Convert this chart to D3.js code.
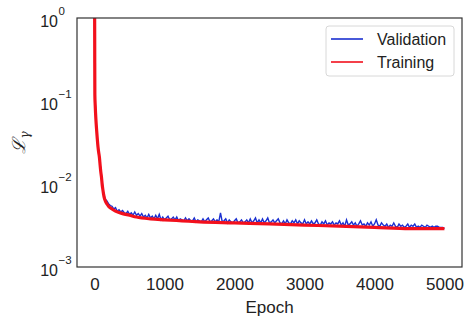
<!DOCTYPE html>
<html><head><meta charset="utf-8">
<script src="https://cdn.jsdelivr.net/npm/d3@7"></script>
<style>body{margin:0;background:#fff}svg{display:block}</style>
</head><body>
<script>
// ---- data ----
const xTicks = [0, 1000, 2000, 3000, 4000, 5000];
const yTickExps = [0, -1, -2, -3];
const trainEpochs = [0,3,5,10,20,30,40,50,60,70,80,90,100,110,120,130,140,160,180,200,250,300,400,500,600,800,1000,1250,1500,2000,2500,3000,3500,4000,4500,4999];
const trainLoss = [5,0.5,0.12,0.09,0.06,0.045,0.035,0.028,0.024,0.021,0.017,0.014,0.012,0.0098,0.0085,0.0075,0.0068,0.0061,0.0057,0.0054,0.0050,0.0047,0.0044,0.0042,0.0040,0.0038,0.0037,0.0036,0.0035,0.0034,0.0033,0.0032,0.0031,0.0030,0.0029,0.0029];
const valEarlyEpochs = [0,5,25,50,75,100,125];
const valEarly = [5,0.12,0.05,0.029,0.019,0.0125,0.0082];
const valStep = 25, valStart = 150;
const valNoisy = [
0.0066,0.0063,0.0058,0.0055,0.0054,0.0050,0.0052,0.0047,0.0049,0.0046,
0.0048,0.0045,0.0044,0.0047,0.0043,0.0045,0.0042,0.0046,0.0042,0.0044,
0.0041,0.0044,0.0040,0.0042,0.0039,0.0043,0.0039,0.0041,0.0038,0.0042,
0.0038,0.0043,0.0037,0.0040,0.0037,0.0039,0.0041,0.0037,0.0038,0.0040,
0.0037,0.0040,0.0036,0.0038,0.0037,0.0036,0.0039,0.0036,0.0038,0.0036,
0.0036,0.0039,0.0035,0.0037,0.0036,0.0035,0.0038,0.0035,0.0037,0.0039,
0.0035,0.0036,0.0038,0.0035,0.0037,0.0035,0.0045,0.0035,0.0036,0.0038,
0.0034,0.0037,0.0035,0.0034,0.0036,0.0038,0.0034,0.0035,0.0037,0.0034,
0.0035,0.0037,0.0034,0.0038,0.0034,0.0036,0.0039,0.0034,0.0037,0.0034,
0.0038,0.0034,0.0036,0.0039,0.0034,0.0035,0.0037,0.0034,0.0036,0.0038,
0.0034,0.0033,0.0036,0.0033,0.0037,0.0034,0.0033,0.0036,0.0034,0.0037,
0.0033,0.0036,0.0034,0.0033,0.0037,0.0033,0.0035,0.0033,0.0036,0.0033,
0.0034,0.0037,0.0033,0.0032,0.0035,0.0033,0.0036,0.0032,0.0034,0.0033,
0.0035,0.0032,0.0034,0.0033,0.0036,0.0032,0.0034,0.0031,0.0037,0.0032,
0.0033,0.0035,0.0032,0.0034,0.0031,0.0033,0.0036,0.0032,0.0033,0.0031,
0.0034,0.0032,0.0035,0.0031,0.0033,0.0037,0.0032,0.0031,0.0034,0.0032,
0.0031,0.0033,0.0030,0.0032,0.0031,0.0034,0.0031,0.0030,0.0033,0.0031,
0.0032,0.0030,0.0031,0.0033,0.0030,0.0032,0.0031,0.0033,0.0030,0.0031,
0.0030,0.0032,0.0031,0.0030,0.0032,0.0031,0.0030,0.0031,0.0030,0.0031,
0.0031,0.0030,0.0030,0.0030,0.0029];
const seriesNames = ["Validation", "Training"];
const seriesColors = ["#1a2fd0", "#f2101c"];

// ---- build ----
const W = 474, H = 325;
const m = {left: 77, right: 12, top: 18, bottom: 58};
const svg = d3.select("body").append("svg").attr("width", W).attr("height", H)
  .style("font-family", "Liberation Sans, Arial, sans-serif");

const x = d3.scaleLinear().domain([-250, 5250]).range([m.left, W - m.right]);
const y = d3.scaleLog().domain([1e-3, 1]).range([H - m.bottom, m.top]);

const valData = valEarlyEpochs.map((e, i) => [e, valEarly[i]])
  .concat(valNoisy.map((v, i) => [Math.min(valStart + i * valStep, 4999), v]));
const trainData = trainEpochs.map((e, i) => [e, trainLoss[i]]);

svg.append("defs").append("clipPath").attr("id", "clip")
  .append("rect").attr("x", m.left).attr("y", m.top)
  .attr("width", W - m.left - m.right).attr("height", H - m.top - m.bottom);

const line = d3.line().x(d => x(d[0])).y(d => y(d[1]));
const g = svg.append("g").attr("clip-path", "url(#clip)");
g.append("path").datum(valData).attr("d", line).attr("fill", "none")
  .attr("stroke", seriesColors[0]).attr("stroke-width", 1.4).attr("stroke-linejoin", "miter");
g.append("path").datum(trainData).attr("d", line.curve(d3.curveMonotoneX)).attr("fill", "none")
  .attr("stroke", seriesColors[1]).attr("stroke-width", 3.2);

// frame
svg.append("rect").attr("x", m.left).attr("y", m.top)
  .attr("width", W - m.left - m.right).attr("height", H - m.top - m.bottom)
  .attr("fill", "none").attr("stroke", "#333").attr("stroke-width", 1.2);

// x axis
const xAxis = d3.axisBottom(x).tickValues(xTicks).tickFormat(d3.format("d")).tickSize(0).tickPadding(11);
const xa = svg.append("g").attr("transform", `translate(0,${H - m.bottom})`).call(xAxis);
xa.select(".domain").remove();
xa.selectAll("text").attr("font-size", 17).attr("fill", "#222")
  .style("font-family", "Liberation Sans, Arial, sans-serif");

// y axis with superscript labels
const ya = svg.append("g");
yTickExps.forEach(e => {
  ya.append("text").attr("x", 58).attr("y", y(Math.pow(10, e)) + 9)
    .attr("text-anchor", "end").attr("fill", "#222").attr("font-size", 16).text("10");
  ya.append("text").attr("x", 58.5).attr("y", y(Math.pow(10, e)) - 3)
    .attr("font-size", 11.5).attr("fill", "#222")
    .text(e === 0 ? "0" : "\u2212" + Math.abs(e));
});

// labels
svg.append("text").attr("x", x(2500)).attr("y", 313).attr("text-anchor", "middle")
  .attr("font-size", 17).attr("fill", "#222").text("Epoch");
const yl = svg.append("text").attr("transform", `translate(25,${(m.top + H - m.bottom) / 2}) rotate(-90)`)
  .attr("text-anchor", "middle").attr("fill", "#222")
  .style("font-family", "DejaVu Serif, serif");
yl.append("tspan").attr("font-size", 18).attr("font-style", "italic").text("\u2112");
yl.append("tspan").attr("font-size", 12).attr("font-style", "italic").attr("dy", 4).text("\u03B3");

// legend
const lg = svg.append("g");
lg.append("rect").attr("x", 326).attr("y", 26).attr("width", 128).attr("height", 50)
  .attr("rx", 3).attr("fill", "#fff").attr("stroke", "#d8d8d8").attr("stroke-width", 1);
seriesNames.forEach((n, i) => {
  const yy = 39 + i * 23;
  lg.append("line").attr("x1", 331).attr("x2", 363).attr("y1", yy).attr("y2", yy)
    .attr("stroke", seriesColors[i]).attr("stroke-width", 1.6);
  lg.append("text").attr("x", 377).attr("y", yy + 6).attr("font-size", 16)
    .attr("fill", "#222").text(n);
});
</script>
</body></html>
